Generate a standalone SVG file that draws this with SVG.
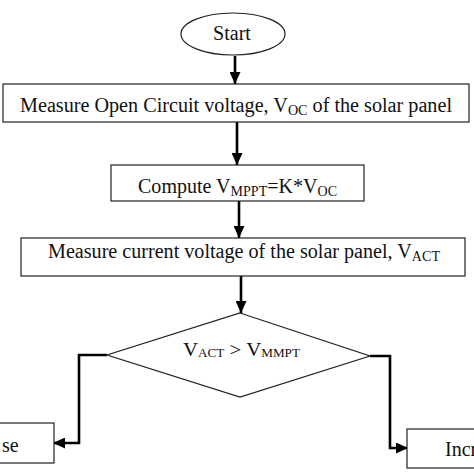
<svg xmlns="http://www.w3.org/2000/svg" width="474" height="474" viewBox="0 0 474 474">
<style>
.box{fill:#fff;stroke:#222;stroke-width:1.2}
.t{font-family:"Liberation Serif","Times New Roman",serif;fill:#111;font-size:20px}
.s{font-size:14px}
.c{fill:none;stroke:#000;stroke-width:2.6}
</style>
<defs>
<marker id="ah" markerWidth="12" markerHeight="11" refX="12" refY="5.5" orient="auto" markerUnits="userSpaceOnUse" viewBox="0 0 12 11">
<path d="M0,0 L12,5.5 L0,11 Z" fill="#000"/>
</marker>
</defs>
<rect width="474" height="474" fill="#fff"/>
<g id="connectors">
<path class="c" d="M235,56 V84" marker-end="url(#ah)"/>
<path class="c" d="M237,122 V165" marker-end="url(#ah)"/>
<path class="c" d="M239,201 V238" marker-end="url(#ah)"/>
<path class="c" d="M241,276 V313" marker-end="url(#ah)"/>
<path class="c" d="M107,355 H79 V443 H53" marker-end="url(#ah)"/>
<path class="c" d="M370,356 H390 V448 H408" marker-end="url(#ah)"/>
</g>
<g id="start">
<ellipse class="box" cx="233" cy="34" rx="52" ry="21"/>
<text class="t" x="232" y="40" text-anchor="middle">Start</text>
</g>
<g id="measure-voc">
<rect class="box" x="3" y="84" width="466" height="38"/>
<text class="t" x="20" y="112" textLength="432" lengthAdjust="spacingAndGlyphs">Measure Open Circuit voltage, V<tspan class="s" dy="3">OC</tspan><tspan dy="-3"> of the solar panel</tspan></text>
</g>
<g id="compute">
<rect class="box" x="111" y="165" width="253" height="36"/>
<text class="t" x="138" y="193" textLength="199" lengthAdjust="spacingAndGlyphs">Compute V<tspan class="s" dy="3">MPPT</tspan><tspan dy="-3">=K*V</tspan><tspan class="s" dy="3">OC</tspan></text>
</g>
<g id="measure-vact">
<rect class="box" x="21" y="238" width="444" height="38"/>
<text class="t" x="48" y="258" textLength="392" lengthAdjust="spacingAndGlyphs">Measure current voltage of the solar panel, V<tspan class="s" dy="3">ACT</tspan></text>
</g>
<g id="decision">
<polygon class="box" points="240,313 370,356 240,397 107,355"/>
<text class="t" x="183" y="356" style="font-size:19px" textLength="117" lengthAdjust="spacingAndGlyphs">V<tspan class="s" style="font-size:12px" dy="1">ACT</tspan><tspan dy="-1"> &gt; V</tspan><tspan class="s" style="font-size:12px" dy="1">MMPT</tspan></text>
</g>
<g id="decrease">
<rect class="box" x="-10" y="423" width="64" height="40"/>
<text class="t" x="2" y="452">se</text>
</g>
<g id="increase">
<rect class="box" x="407" y="429" width="80" height="39"/>
<text class="t" x="445" y="456">Incr</text>
</g>
</svg>
